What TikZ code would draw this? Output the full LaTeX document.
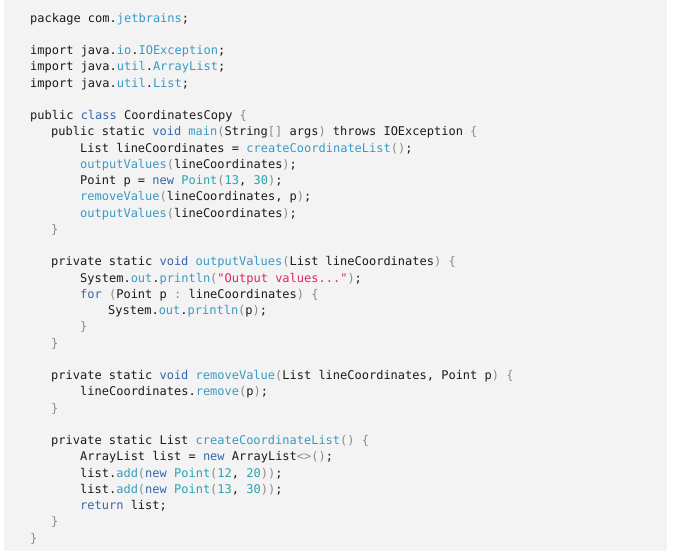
\documentclass[tikz,border=0pt]{standalone}
\usepackage{fontspec}
\setmonofont{DejaVu Sans Mono}
\definecolor{bgc}{HTML}{F3F3F3}
\definecolor{kwc}{HTML}{3567AE}
\definecolor{fnc}{HTML}{3A9AC6}
\definecolor{tyc}{HTML}{2AA3B0}
\definecolor{stc}{HTML}{E0285C}
\definecolor{puc}{HTML}{8A8A8A}
\definecolor{txc}{HTML}{1A1A1A}
\newcommand\Kw[1]{\textcolor{kwc}{#1}}
\newcommand\Fn[1]{\textcolor{fnc}{#1}}
\newcommand\Ty[1]{\textcolor{tyc}{#1}}
\newcommand\St[1]{\textcolor{stc}{#1}}
\newcommand\Pu[1]{\textcolor{puc}{#1}}
\tikzset{codeline/.style={anchor=base west,inner sep=0pt,font=\ttfamily\fontsize{12}{14}\selectfont,text=txc}}
\begin{document}
\begin{tikzpicture}[x=1pt,y=-1pt]
\useasboundingbox (0,0) rectangle (680,555);
\fill[white] (0,0) rectangle (680,555);
\fill[bgc] (4,0) rectangle (667,551);
\def\Y#1{22+16.25*#1}
\node[codeline] (l0) at (30,{\Y{0}}) {package com.\Fn{jetbrains};};
\node[codeline] (l2) at (30,{\Y{2}}) {import java.\Fn{io}.\Fn{IOException};};
\node[codeline] (l3) at (30,{\Y{3}}) {import java.\Fn{util}.\Fn{ArrayList};};
\node[codeline] (l4) at (30,{\Y{4}}) {import java.\Fn{util}.\Fn{List};};
\node[codeline] (l6) at (30,{\Y{6}}) {public \Kw{class} CoordinatesCopy \Pu{\{}};
\node[codeline] (l7) at (51,{\Y{7}}) {public static \Kw{void} \Fn{main}\Pu{(}String\Pu{[]} args\Pu{)} throws IOException \Pu{\{}};
\node[codeline] (l8) at (80,{\Y{8}}) {List lineCoordinates = \Fn{createCoordinateList}\Pu{()};};
\node[codeline] (l9) at (80,{\Y{9}}) {\Fn{outputValues}\Pu{(}lineCoordinates\Pu{)};};
\node[codeline] (l10) at (80,{\Y{10}}) {Point p = \Kw{new} \Ty{Point}\Pu{(}\Ty{13}, \Ty{30}\Pu{)};};
\node[codeline] (l11) at (80,{\Y{11}}) {\Fn{removeValue}\Pu{(}lineCoordinates, p\Pu{)};};
\node[codeline] (l12) at (80,{\Y{12}}) {\Fn{outputValues}\Pu{(}lineCoordinates\Pu{)};};
\node[codeline] (l13) at (51,{\Y{13}}) {\Pu{\}}};
\node[codeline] (l15) at (51,{\Y{15}}) {private static \Kw{void} \Fn{outputValues}\Pu{(}List lineCoordinates\Pu{)} \Pu{\{}};
\node[codeline] (l16) at (80,{\Y{16}}) {System.\Fn{out}.\Fn{println}\Pu{(}\St{"Output values..."}\Pu{)};};
\node[codeline] (l17) at (80,{\Y{17}}) {\Kw{for} \Pu{(}Point p \Pu{:} lineCoordinates\Pu{)} \Pu{\{}};
\node[codeline] (l18) at (108,{\Y{18}}) {System.\Fn{out}.\Fn{println}\Pu{(}p\Pu{)};};
\node[codeline] (l19) at (80,{\Y{19}}) {\Pu{\}}};
\node[codeline] (l20) at (51,{\Y{20}}) {\Pu{\}}};
\node[codeline] (l22) at (51,{\Y{22}}) {private static \Kw{void} \Fn{removeValue}\Pu{(}List lineCoordinates, Point p\Pu{)} \Pu{\{}};
\node[codeline] (l23) at (80,{\Y{23}}) {lineCoordinates.\Fn{remove}\Pu{(}p\Pu{)};};
\node[codeline] (l24) at (51,{\Y{24}}) {\Pu{\}}};
\node[codeline] (l26) at (51,{\Y{26}}) {private static List \Fn{createCoordinateList}\Pu{()} \Pu{\{}};
\node[codeline] (l27) at (80,{\Y{27}}) {ArrayList list = \Kw{new} ArrayList\Pu{<>()};};
\node[codeline] (l28) at (80,{\Y{28}}) {list.\Fn{add}\Pu{(}\Kw{new} \Ty{Point}\Pu{(}\Ty{12}, \Ty{20}\Pu{))};};
\node[codeline] (l29) at (80,{\Y{29}}) {list.\Fn{add}\Pu{(}\Kw{new} \Ty{Point}\Pu{(}\Ty{13}, \Ty{30}\Pu{))};};
\node[codeline] (l30) at (80,{\Y{30}}) {\Kw{return} list;};
\node[codeline] (l31) at (51,{\Y{31}}) {\Pu{\}}};
\node[codeline] (l32) at (30,{\Y{32}}) {\Pu{\}}};
\end{tikzpicture}
\end{document}
